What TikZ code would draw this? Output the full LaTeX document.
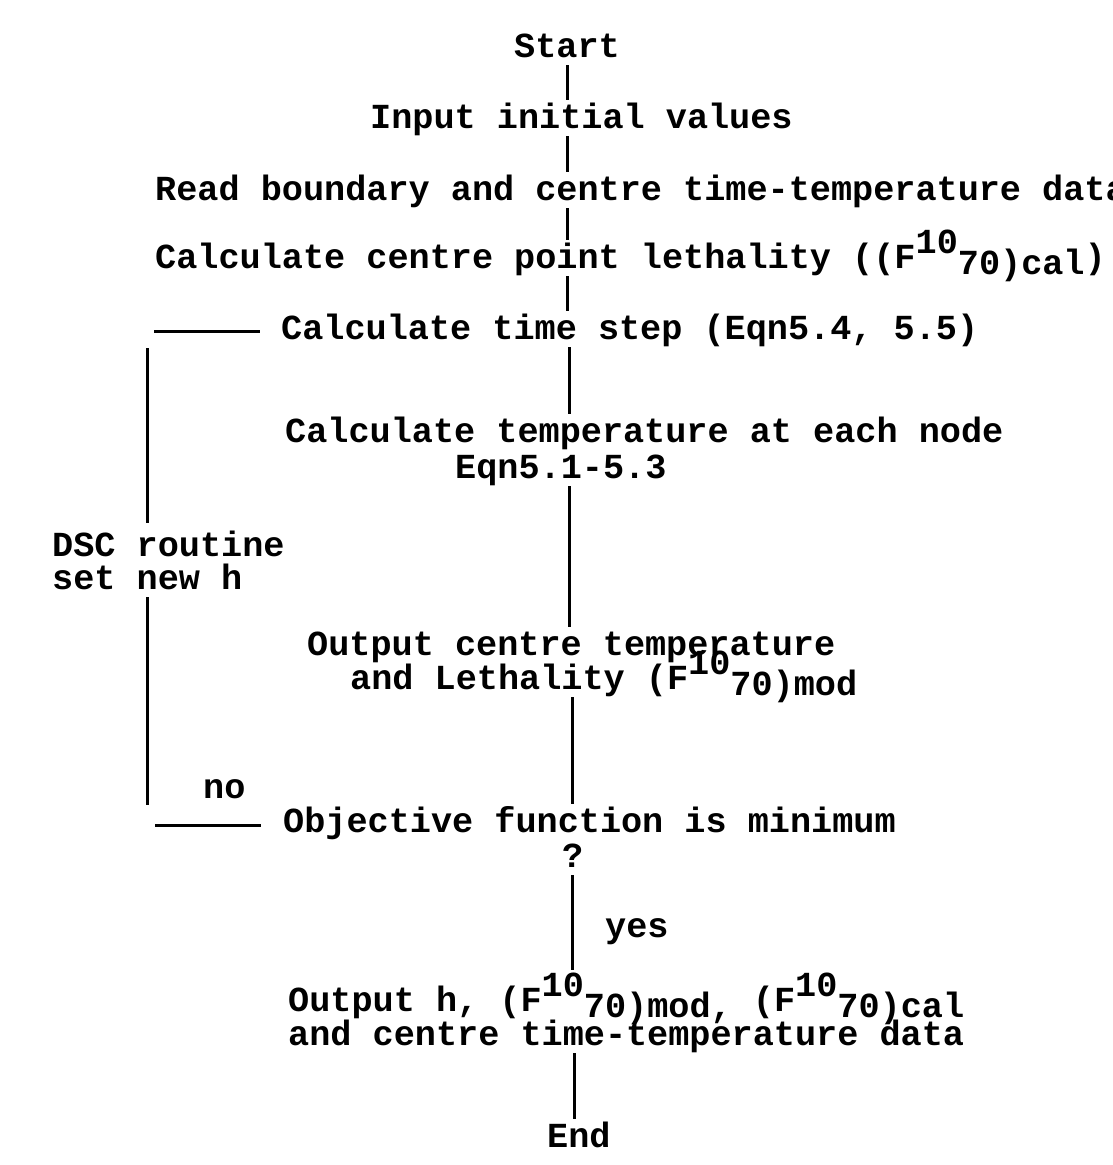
\documentclass[tikz,border=0pt]{standalone}
\usepackage{fontspec}
\newfontfamily\twfont{Liberation Mono}
\newcommand\supr[1]{\smash{\raisebox{15pt}{#1}}}
\newcommand\subr[1]{\smash{\raisebox{-6pt}{#1}}}
\begin{document}
\begin{tikzpicture}[x=1pt,y=-1pt,
  txt/.style={anchor=base west, inner xsep=0pt, inner ysep=4pt,
    text height=24pt, text depth=4pt,
    font=\twfont\bfseries\fontsize{35.2pt}{34pt}\selectfont},
  link/.style={line width=3pt}]
\useasboundingbox[fill=white] (0,0) rectangle (1112,1165);

% texts
\node[txt] (start) at (514,57) {Start};
\node[txt] (input) at (370,128) {Input initial values};
\node[txt] (read)  at (155,200) {Read boundary and centre time-temperature data};
\node[txt] (leth)  at (155,268) {Calculate centre point lethality ((F\supr{10}\subr{70)cal})};
\node[txt] (tstep) at (281,339) {Calculate time step (Eqn5.4, 5.5)};
\node[txt] (temp1) at (285,442) {Calculate temperature at each node};
\node[txt] (temp2) at (455,478) {Eqn5.1-5.3};
\node[txt] (dsc1)  at (52,556) {DSC routine};
\node[txt] (dsc2)  at (52,589) {set new h};
\node[txt] (out1)  at (307,655) {Output centre temperature};
\node[txt] (out2)  at (350,689) {and Lethality (F\supr{10}\subr{70)mod}};
\node[txt] (no)    at (203,798) {no};
\node[txt] (obj)   at (283,832) {Objective function is minimum};
\node[txt] (q)     at (562,867) {?};
\node[txt] (yes)   at (605,937) {yes};
\node[txt] (res1)  at (288,1011) {Output h, (F\supr{10}\subr{70)mod,} (F\supr{10}\subr{70)cal}};
\node[txt] (res2)  at (288,1045) {and centre time-temperature data};
\node[txt] (finish) at (547,1147) {End};

% spine positions
\coordinate (sA) at (567,0);
\coordinate (sB) at (569,0);
\coordinate (sC) at (572,0);
\coordinate (sD) at (574,0);

\draw[link] (sA |- start.south) -- (sA |- input.north);
\draw[link] (sA |- input.south) -- (sA |- read.north);
\draw[link] (sA |- read.south) -- (sA |- leth.north);
\draw[link] (sA |- leth.south) -- (sA |- tstep.north);
\draw[link] (sB |- tstep.south) -- (sB |- temp1.north);
\draw[link] (sB |- temp2.south) -- (sB |- out1.north);
\draw[link] (sC |- out2.south) -- (sC |- obj.north);
\draw[link] (sC |- q.south) -- ([yshift=13pt]sC |- res1.north);
\draw[link] (sD |- res2.south) -- (sD |- finish.north);

% loop on the left
\coordinate (topdash) at (154,331);
\coordinate (botdash) at (155,825);
\coordinate (looptop) at (147,348);
\coordinate (loopbot) at (147,805);
\draw[link, shorten >=21pt] (topdash) -- (topdash -| tstep.west);
\draw[link, shorten >=22pt] (botdash) -- (botdash -| obj.west);
\draw[link, shorten >=5pt] (looptop) -- (looptop |- dsc1.north);
\draw[link] (looptop |- dsc2.south) -- (loopbot);
\end{tikzpicture}
\end{document}
